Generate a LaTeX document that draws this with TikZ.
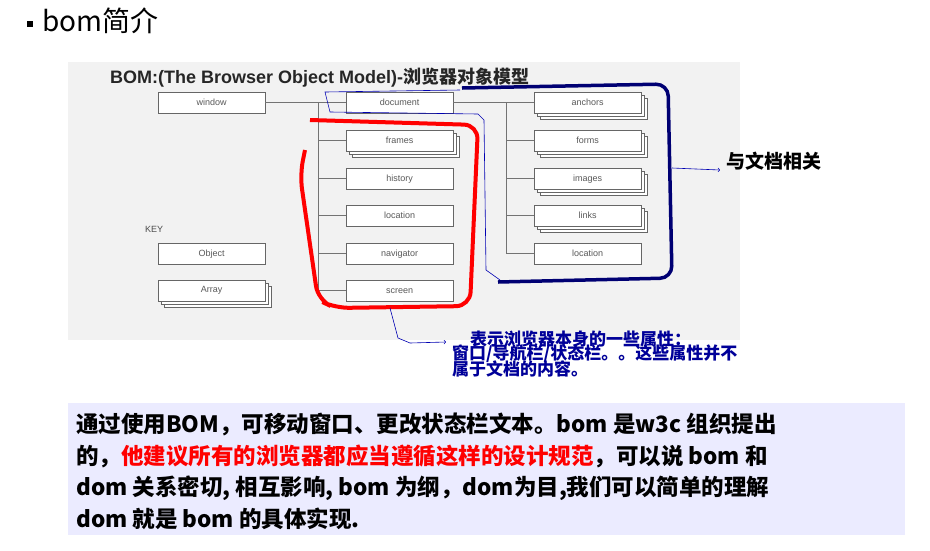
\documentclass[tikz,border=0pt]{standalone}
\usepackage{fontspec}
\setmainfont{Liberation Sans}
\newfontfamily\cjk{Noto Sans CJK SC}
\newcommand{\cjkb}{\cjk\bfseries}
\begin{document}
\begin{tikzpicture}[x=1pt,y=-1pt,
  bx/.style={draw=black!60,fill=white,minimum width=107pt,minimum height=21pt,inner sep=0pt,font=\fontsize{9}{9}\selectfont,text=black!65},
  ln/.style={draw=black!55,line width=0.7pt},
  redloop/.style={draw=red,line width=4pt,rounded corners=14pt},
  blueloop/.style={draw=blue!45!black,line width=3.5pt,rounded corners=12pt},
  thin/.style={draw=blue!70!black,line width=0.6pt},
  note/.style={font=\cjkb\fontsize{17}{17}\selectfont,text=blue!60!black,anchor=west,inner sep=0pt}]
\useasboundingbox (0,0) rectangle (930,550);
\fill[white] (0,0) rectangle (930,550);
\node[anchor=center,fill=black,minimum size=6pt,inner sep=0pt] (bul) at (30,24) {};
\node[anchor=west,inner sep=0pt,font=\cjk\fontsize{28}{28}\selectfont] (ttl) at (42,21) {bom简介};
\fill[black!5] (68,62) rectangle (740,340);
\node[anchor=west,inner sep=0pt,font=\fontsize{18}{18}\selectfont\bfseries,text=black!85] (bt) at (110,78) {BOM:(The Browser Object Model)-{\cjk 浏览器对象模型}};
\newcommand{\stk}[2]{\draw[black!60,fill=white] (#1+6,#2+6) rectangle ++(107,21); \draw[black!60,fill=white] (#1+3,#2+3) rectangle ++(107,21);}
\stk{346}{130}
\stk{534}{92}\stk{534}{130}\stk{534}{168}\stk{534}{205}
\stk{158}{280}
\node[bx,anchor=north west] (win) at (158,92) {window};
\node[bx,anchor=north west] (doc) at (346,92) {document};
\node[bx,anchor=north west] (fr) at (346,130) {frames};
\node[bx,anchor=north west] (hi) at (346,168) {history};
\node[bx,anchor=north west] (lo) at (346,205) {location};
\node[bx,anchor=north west] (na) at (346,243) {navigator};
\node[bx,anchor=north west] (sc) at (346,280) {screen};
\node[bx,anchor=north west] (an) at (534,92) {anchors};
\node[bx,anchor=north west] (fo) at (534,130) {forms};
\node[bx,anchor=north west] (im) at (534,168) {images};
\node[bx,anchor=north west] (li) at (534,205) {links};
\node[bx,anchor=north west] (lo2) at (534,243) {location};
\node[anchor=west,inner sep=0pt,font=\fontsize{9}{9}\selectfont,text=black!70] (key) at (145,229) {KEY};
\node[bx,anchor=north west] (ob) at (158,243) {Object};
\node[bx,anchor=north west] (ar) at (158,280) {Array};
\coordinate (t1) at (318,102.5); \coordinate (t1b) at (318,290.5);
\coordinate (t2) at (506,102.5); \coordinate (t2b) at (506,253.5);
\draw[ln] (win.east) -- (doc.west);
\draw[ln] (t1) -- (t1b);
\foreach \n in {fr,hi,lo,na,sc} \draw[ln] (t1 |- \n.west) -- (\n.west);
\draw[ln] (doc.east) -- (an.west);
\draw[ln] (t2) -- (t2b);
\foreach \n in {fo,im,li,lo2} \draw[ln] (t2 |- \n.west) -- (\n.west);
\draw[redloop] (305,150) -- (300,175) -- (318,300) -- (335,308) -- (470,306) -- (478,125) -- (310,120);
\draw[blueloop] (462,88) -- (668,84) -- (672,278) -- (498,282);
\draw[thin] (500,280) -- (486,270) -- (484,120) -- (478,114) -- (330,112) -- (325,92) -- (460,90);
\draw[thin,->] (672,168) -- (720,170);
\node[anchor=west,inner sep=0pt,font=\cjkb\fontsize{19}{19}\selectfont] (rel) at (726,161) {与文档相关};
\draw[thin] (390,308) -- (398,338) -- (410,343);
\draw[thin,->] (410,343) -- (446,342);
\node[note] (n1) at (470,339) {表示浏览器本身的一些属性：};
\node[note] (n2) at (452,354) {窗口/导航栏/状态栏。。这些属性并不};
\node[note] (n3) at (452,369) {属于文档的内容。};
\fill[blue!8] (68,403) rectangle (905,535);
\begin{scope}[every node/.style={anchor=west,inner sep=0pt,font=\cjkb\fontsize{22.5}{23}\selectfont}]
\node (l1) at (76,424) {通过使用BOM，可移动窗口、更改状态栏文本。bom 是w3c 组织提出};
\node (l2) at (76,456) {的，\textcolor{red}{他建议所有的浏览器都应当遵循这样的设计规范}，可以说 bom 和};
\node (l3) at (76,488) {dom 关系密切, 相互影响, bom 为纲，dom为目,我们可以简单的理解};
\node (l4) at (76,519) {dom 就是 bom 的具体实现.};
\end{scope}
\end{tikzpicture}
\end{document}
